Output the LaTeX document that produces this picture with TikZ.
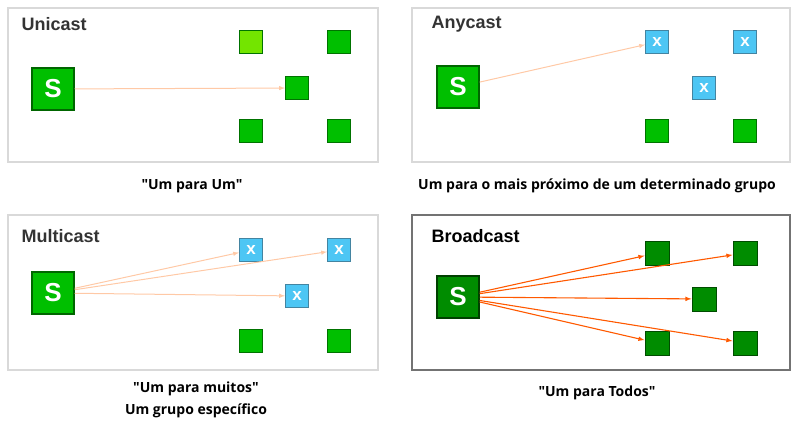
\documentclass[tikz,border=0pt]{standalone}
\usepackage{fontspec}
\setmainfont{Open Sans}
\newfontfamily\ttl{Liberation Sans}
\begin{document}
\begin{tikzpicture}[x=1pt,y=-1pt,
 panel/.style={draw=black!15,line width=1.2pt},
 ttlf/.style={anchor=west,font=\ttl\bfseries\fontsize{18}{18}\selectfont,text=black!80},
 captxt/.style={font=\bfseries\fontsize{14}{16}\selectfont},
 src/.style={draw=green!40!black,fill=green!75!black,line width=1.5pt,minimum size=42pt,inner sep=0pt,text=white,font=\ttl\bfseries\fontsize{26}{26}\selectfont},
 gs/.style={draw=green!45!black,fill=green!75!black,line width=1pt,minimum size=23pt,inner sep=0pt},
 xs/.style={draw=cyan!60!black,fill=cyan!70,line width=1pt,minimum size=23pt,inner sep=0pt,text=white,font=\ttl\bfseries\fontsize{17}{17}\selectfont},
 ds/.style={draw=green!30!black,fill=green!55!black,line width=1pt,minimum size=24pt,inner sep=0pt},
 la/.style={draw=red!20!orange!35,line width=1pt,-latex},
 da/.style={draw=red!30!orange,line width=1.1pt,-latex}]
\useasboundingbox (0,0) rectangle (804,428);
% Unicast
\draw[panel] (8,8) rectangle (378,162);
\node[ttlf] (t1) at (18,24) {Unicast};
\node[src] (s1) at (53,89) {S};
\node[gs,fill=green!50!yellow!90!black] (u1) at (251,42) {};
\node[gs] (u2) at (339,42) {};
\node[gs] (u3) at (297,88) {};
\node[gs] (u4) at (251,131) {};
\node[gs] (u5) at (339,131) {};
\draw[la] (s1) -- (u3);
\node[captxt] (c1) at (192,186) {\textquotedbl Um para Um\textquotedbl};
% Anycast
\draw[panel] (412,8) rectangle (790,162);
\node[ttlf] (t2) at (428,24) {Anycast};
\node[src] (s2) at (458,87) {S};
\node[xs] (a1) at (657,42) {x};
\node[xs] (a2) at (745,42) {x};
\node[xs] (a3) at (704,88) {x};
\node[gs] (a4) at (657,131) {};
\node[gs] (a5) at (745,131) {};
\draw[la] (s2) -- (a1);
\node[captxt] (c2) at (597,186) {Um para o mais próximo de um determinado grupo};
% Multicast
\draw[panel] (8,215) rectangle (378,370);
\node[ttlf] (t3) at (18,236) {Multicast};
\node[src] (s3) at (53,293) {S};
\node[xs] (m1) at (251,250) {x};
\node[xs] (m2) at (339,250) {x};
\node[xs] (m3) at (297,296) {x};
\node[gs] (m4) at (251,341) {};
\node[gs] (m5) at (339,341) {};
\draw[la] (s3) -- (m1);
\draw[la] (s3) -- (m2);
\draw[la] (s3) -- (m3);
\node[captxt] (c3) at (196,389) {\textquotedbl Um para muitos\textquotedbl};
\node[captxt] (c4) at (196,411) {Um grupo específico};
% Broadcast
\draw[draw=black!55,line width=1.2pt] (412,215) rectangle (790,370);
\node[ttlf,text=black] (t4) at (428,236) {Broadcast};
\node[src,draw=green!25!black,fill=green!55!black] (s4) at (458,297) {S};
\node[ds] (b1) at (657,253) {};
\node[ds] (b2) at (745,253) {};
\node[ds] (b3) at (704,299) {};
\node[ds] (b4) at (657,343) {};
\node[ds] (b5) at (745,343) {};
\foreach \n in {b1,b2,b3,b4,b5} \draw[da] (s4) -- (\n);
\node[captxt] (c5) at (597,393) {\textquotedbl Um para Todos\textquotedbl};
\end{tikzpicture}
\end{document}
